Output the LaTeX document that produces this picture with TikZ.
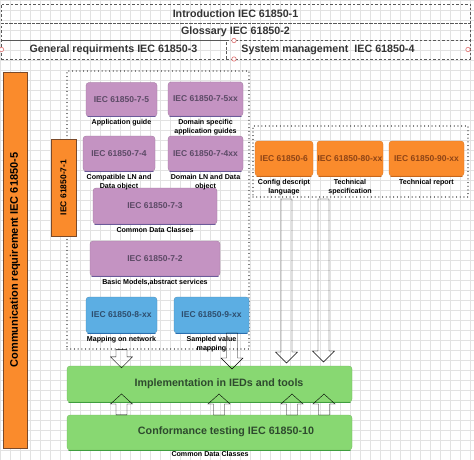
\documentclass[tikz,border=0pt]{standalone}
\usepackage{fontspec}
\setmainfont{Liberation Sans}
\usetikzlibrary{calc}
\definecolor{purp}{HTML}{C493C2}
\definecolor{purpline}{HTML}{6B5A9A}
\definecolor{purptext}{HTML}{5C4A66}
\definecolor{bluef}{HTML}{5CAEE3}
\definecolor{blueline}{HTML}{2A6FB0}
\definecolor{bluetext}{HTML}{2E4E6E}
\definecolor{orangef}{HTML}{FA8B2C}
\definecolor{orangeline}{HTML}{C8661A}
\definecolor{orangetext}{HTML}{8E4416}
\definecolor{barline}{HTML}{7A4A2A}
\definecolor{greenf}{HTML}{88D872}
\definecolor{greenline}{HTML}{3E9E3E}
\definecolor{greentext}{HTML}{2E4A2E}
\definecolor{gridc}{HTML}{E2E2E2}
\definecolor{toptext}{HTML}{333333}
\definecolor{handle}{HTML}{E07070}
\begin{document}
\begin{tikzpicture}[x=1pt,y=-1pt,
  topbox/.style={draw=black!65, line width=0.8pt, dash pattern=on 2.5pt off 2pt, inner sep=0pt, text=toptext, font=\bfseries\fontsize{10.7}{12}\selectfont},
  dotbox/.style={draw=black!60, line width=1.1pt, dash pattern=on 0.1pt off 3.6pt, line cap=round},
  box/.style={rounded corners=3pt, inner sep=0pt, font=\bfseries\fontsize{8.5}{10}\selectfont},
  pbox/.style={box, fill=purp, draw=purp!80!black, line width=0.3pt, text=purptext},
  bbox/.style={box, fill=bluef, draw=bluef!80!black, line width=0.3pt, text=bluetext},
  obox/.style={box, fill=orangef, draw=orangef!85!black, line width=0.3pt, text=orangetext},
  obar/.style={fill=orangef, draw=barline, line width=0.5pt, inner sep=0pt, rotate=90, text=black},
  gbox/.style={rounded corners=3pt, inner sep=0pt, fill=greenf, draw=greenf!85!black, line width=0.3pt},
  gtext/.style={text=greentext, font=\bfseries\fontsize{10.7}{12}\selectfont, inner sep=0pt},
  lab/.style={anchor=north, inner sep=0pt, yshift=-3pt, align=center, font=\bfseries\fontsize{7.1}{8.6}\selectfont, text=black},
  botline/.style={line width=1.2pt, line cap=round},
  blockarr/.style={draw=black!72, fill=white, line width=0.85pt, dash pattern=on 2.5pt off 2pt},
  darrow/.style={blockarr, to path={let \p1=(\tikztostart), \p2=(\tikztotarget) in
     (\x1-5.5pt,\y1) -- (\x1+5.5pt,\y1) -- (\x1+5.5pt,\y2+11pt) -- (\x1+11pt,\y2+11pt) -- (\x1,\y2) -- (\x1-11pt,\y2+11pt) -- (\x1-5.5pt,\y2+11pt) -- cycle}},
  uarrow/.style={blockarr, to path={let \p1=(\tikztostart), \p2=(\tikztotarget) in
     (\x1-5.5pt,\y1) -- (\x1+5.5pt,\y1) -- (\x1+5.5pt,\y2-10pt) -- (\x1+11pt,\y2-10pt) -- (\x1,\y2) -- (\x1-11pt,\y2-10pt) -- (\x1-5.5pt,\y2-10pt) -- cycle}},
  hnd/.style={circle, draw=handle, fill=white, line width=0.6pt, minimum size=4.4pt, inner sep=0pt}
]
\useasboundingbox (0,0) rectangle (474,460);
\fill[white] (0,0) rectangle (474,460);
\draw[gridc, line width=0.4pt, step=10pt] (0,0) grid (474,460);

% top stack
\node[topbox, minimum width=469pt, minimum height=19pt] (intro) at (235.5,13.5) {Introduction IEC 61850-1};
\node[topbox, minimum width=469pt, minimum height=17.5pt] (gloss) at (235.5,31.75) {Glossary IEC 61850-2};
\node[topbox, minimum width=225pt, minimum height=18.5pt] (genreq) at (113.5,49.75) {General requirments IEC 61850-3};
\node[topbox, minimum width=244pt, minimum height=18.5pt, text=white, label={[text=toptext, font=\bfseries\fontsize{10.7}{12}\selectfont, xshift=-20pt]center:System management~~IEC 61850-4}] (sysman) at (348,49.75) {};

% dotted groups
\node[dotbox, minimum width=182pt, minimum height=278pt, inner sep=0pt] (lbox) at (158,210) {};
\node[dotbox, minimum width=215pt, minimum height=71pt, inner sep=0pt] (rbox) at (360.5,161.5) {};

% orange bars
\node[obar, minimum width=376pt, minimum height=24pt, font=\bfseries\fontsize{11}{13}\selectfont] (comm) at (15,260) {Communication requirement IEC 61850-5};
\node[obar, minimum width=97pt, minimum height=25pt, font=\bfseries\fontsize{8.5}{10}\selectfont] (iec71) at (63.5,187.5) {IEC 61850-7-1};

% purple boxes
\node[pbox, minimum width=71pt, minimum height=34pt] (p75) at (121.5,99.5) {IEC 61850-7-5};
\node[pbox, minimum width=75pt, minimum height=34pt] (p75xx) at (205.5,99) {IEC 61850-7-5xx};
\node[pbox, minimum width=72pt, minimum height=35pt] (p74) at (119,153.5) {IEC 61850-7-4};
\node[pbox, minimum width=75pt, minimum height=35pt] (p74xx) at (205.5,153.5) {IEC 61850-7-4xx};
\node[pbox, minimum width=124pt, minimum height=36pt] (p73) at (155,206) {IEC 61850-7-3};
\node[pbox, minimum width=130pt, minimum height=35pt] (p72) at (155,258.5) {IEC 61850-7-2};
% blue boxes
\node[bbox, minimum width=71pt, minimum height=36pt] (b8) at (121.5,315) {IEC 61850-8-xx};
\node[bbox, minimum width=75pt, minimum height=36pt] (b9) at (211.5,315) {IEC 61850-9-xx};
% orange boxes
\node[obox, minimum width=58pt, minimum height=35pt] (o6) at (284,158.5) {IEC 61850-6};
\node[obox, minimum width=66pt, minimum height=35pt] (o80) at (350,158.5) {IEC 61850-80-xx};
\node[obox, minimum width=75pt, minimum height=35pt] (o90) at (426.5,158.5) {IEC 61850-90-xx};

\foreach \n in {p75,p75xx,p74,p74xx,p73,p72}
  \draw[botline, purpline] ([xshift=2pt]\n.south west) -- ([xshift=-2pt]\n.south east);
\foreach \n in {b8,b9}
  \draw[botline, blueline] ([xshift=2pt]\n.south west) -- ([xshift=-2pt]\n.south east);
\foreach \n in {o6,o80,o90}
  \draw[line width=0.8pt, line cap=round, orangeline] ([xshift=2pt]\n.south west) -- ([xshift=-2pt]\n.south east);

% labels
\node[lab] (l75) at (p75.south) {Application guide};
\node[lab] (l75xx) at (p75xx.south) {Domain specific\\application guides};
\node[lab] (l74) at (p74.south) {Compatible LN and\\Data object};
\node[lab] (l74xx) at (p74xx.south) {Domain LN and Data\\object};
\node[lab] (l73) at (p73.south) {Common Data Classes};
\node[lab] (l72) at (p72.south) {Basic Models,abstract services};
\node[lab] (l8) at (b8.south) {Mapping on network};
\node[lab] (l9) at (b9.south) {Sampled value\\mapping};
\node[lab] (l6) at (o6.south) {Config descript\\language};
\node[lab] (l80) at (o80.south) {Technical\\specification};
\node[lab] (l90) at (o90.south) {Technical report};

% green boxes
\node[gbox, minimum width=285pt, minimum height=36pt, label={[gtext, xshift=9.5pt, yshift=0.5pt]center:Implementation in IEDs and tools}] (impl) at (209.5,384) {};
\node[gbox, minimum width=285pt, minimum height=35pt, label={[gtext, xshift=16.5pt, yshift=0.5pt]center:Conformance testing IEC 61850-10}] (conf) at (209.5,432.5) {};
\foreach \n in {impl,conf}
  \draw[botline, greenline] ([xshift=2pt]\n.south west) -- ([xshift=-2pt]\n.south east);
\node[lab, yshift=1.5pt] (lconf) at (210,450) {Common Data Classes};

% arrows
\coordinate (d1s) at (b8.south |- lbox.south);
\coordinate (d1e) at ($(b8.south |- impl.north)+(0,2)$);
\coordinate (d2s) at (232,333);
\coordinate (d2e) at (232,369);
\coordinate (d3s) at (286.5,199);
\coordinate (d3e) at (286.5,363);
\coordinate (d4s) at (323.5,199);
\coordinate (d4e) at (323.5,362);
\draw (d1s) to[darrow] (d1e);
\draw (d2s) to[darrow] (d2e);
\draw (d3s) to[darrow] (d3e);
\draw (d4s) to[darrow] (d4e);

\coordinate (u1s) at (b8.south |- conf.north);
\coordinate (u1e) at (121.5,394);
\coordinate (u2s) at (219,415);
\coordinate (u2e) at (219,394);
\coordinate (u3s) at (292,415);
\coordinate (u3e) at (292,394);
\coordinate (u4s) at (324,415);
\coordinate (u4e) at (324,394);
\draw (u1s) to[uarrow] (u1e);
\draw (u2s) to[uarrow] (u2e);
\draw (u3s) to[uarrow] (u3e);
\draw (u4s) to[uarrow] (u4e);

% selection handles
\node[hnd] (h1) at (1.5,49.5) {};
\node[hnd] (h2) at (234,40.5) {};
\node[hnd] (h3) at (234,59) {};
\node[hnd] (h4) at (468,49.5) {};
\end{tikzpicture}
\end{document}
